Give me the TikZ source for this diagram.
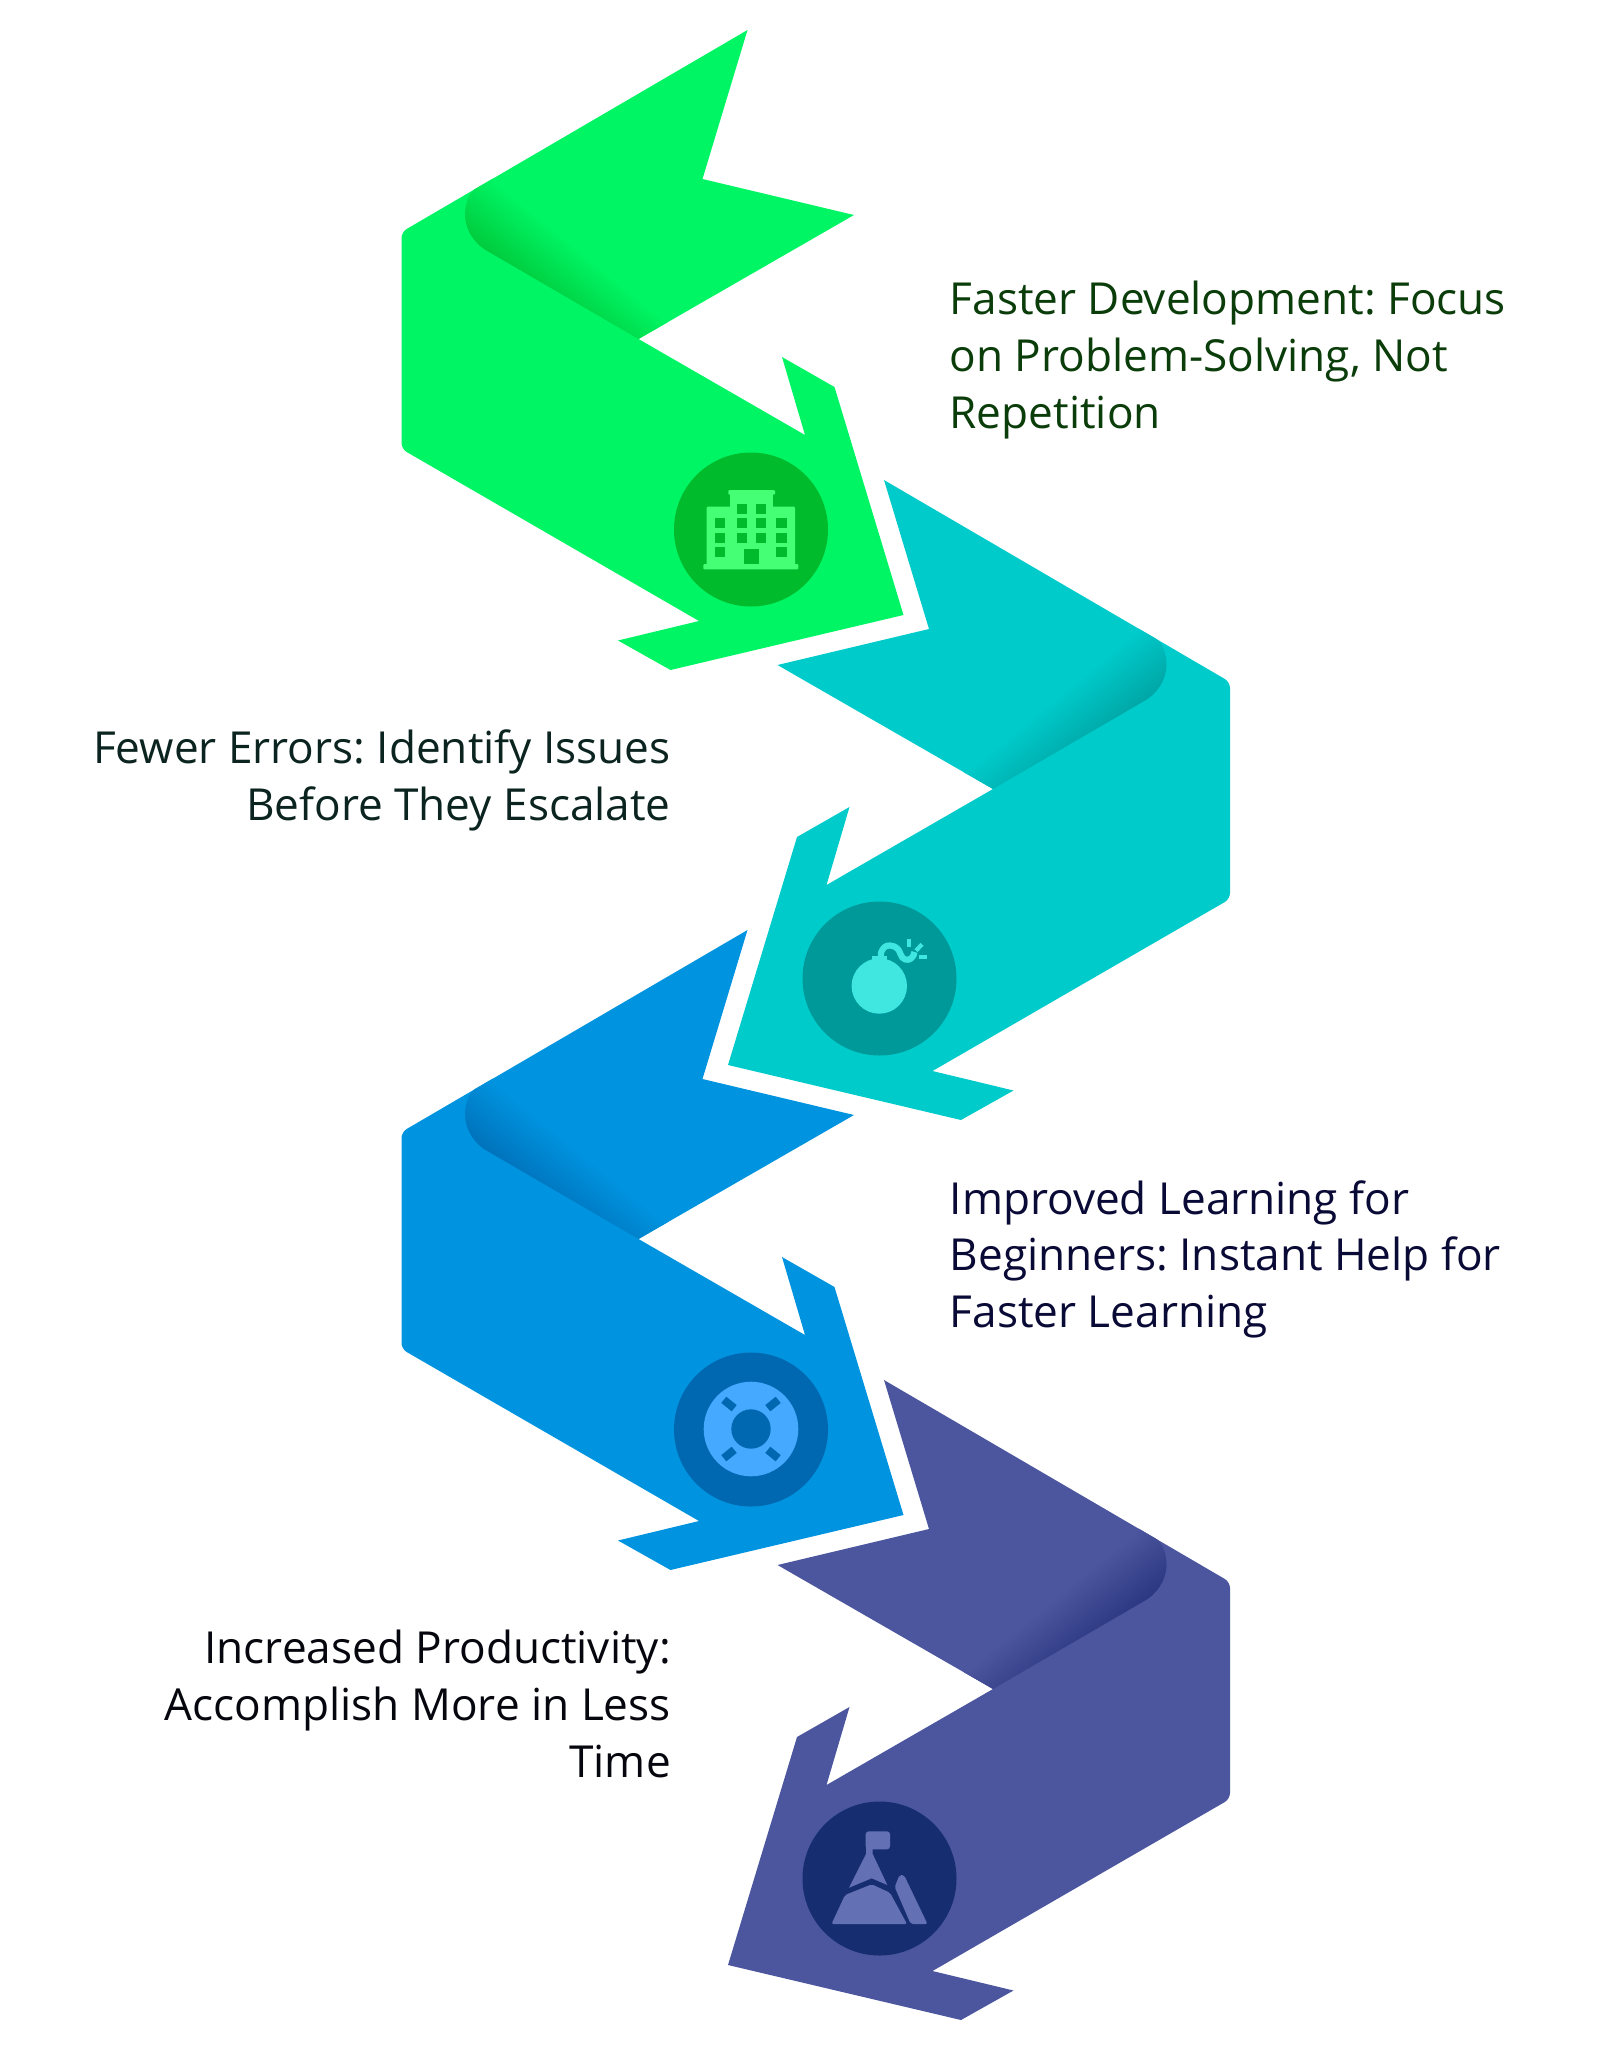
\documentclass[tikz,border=0pt]{standalone}
\usepackage{fontspec}
\setmainfont{Open Sans}
\usepackage{xcolor}
\definecolor{greenmain}{HTML}{00F564}
\definecolor{greenfold}{HTML}{00C83A}
\definecolor{greendisc}{HTML}{00BC2D}
\definecolor{greenicon}{HTML}{45FF75}
\definecolor{greentext}{HTML}{0B3D0B}
\definecolor{tealmain}{HTML}{00CBCB}
\definecolor{tealfold}{HTML}{00A3A3}
\definecolor{tealdisc}{HTML}{009999}
\definecolor{tealicon}{HTML}{40E6E0}
\definecolor{tealtext}{HTML}{0B2420}
\definecolor{bluemain}{HTML}{0094E0}
\definecolor{bluefold}{HTML}{0070B8}
\definecolor{bluedisc}{HTML}{0068B0}
\definecolor{blueicon}{HTML}{44A9FF}
\definecolor{bluetext}{HTML}{0A0A36}
\definecolor{purplemain}{HTML}{4B569E}
\definecolor{purplefold}{HTML}{2A3580}
\definecolor{purpledisc}{HTML}{162E70}
\definecolor{purpleicon}{HTML}{6470B4}
\definecolor{purpletext}{HTML}{06060E}
\newcommand{\ribbon}[3]{
\begin{scope}[transform canvas={#1}]
\fill[#2] (747.5,30) -- (702.5,179) -- (854,215) -- (638.5,339) -- (805,435) -- (782,357) -- (834.5,387) -- (903.5,615) -- (670.5,670) -- (618,640.5) -- (699,621) [rounded corners=0.6mm] -- (401.5,449) -- (401.5,232) [sharp corners] -- cycle;
\begin{scope}
\clip (475,189) .. controls (468,194) and (465,205) .. (465,215) .. controls (465,230) and (475,245) .. (489,252) -- (638.5,339) -- (854,215) -- (747.5,30) -- cycle;
\begin{scope}[transform canvas={shift={(503,187)},rotate=-39.4}]
\shade[top color=#2,bottom color=#3] (-300,0) rectangle (500,65);
\end{scope}
\end{scope}
\end{scope}
}
\begin{document}
\frenchspacing
\begin{tikzpicture}[line cap=round,line join=round,x=0.01cm,y=-0.01cm,
  steptext/.style={inner sep=0pt,font=\fontsize{12.55}{16.1}\selectfont},
  stepright/.style={steptext,anchor=base east,align=right},
  stepleft/.style={steptext,anchor=base west,align=left}]
\useasboundingbox (0,0) rectangle (1619,2048);
\ribbon{}{greenmain}{greenfold}
\ribbon{shift={(1631.5,450)},xscale=-1}{tealmain}{tealfold}
\ribbon{shift={(0,900)}}{bluemain}{bluefold}
\ribbon{shift={(1631.5,1350)},xscale=-1}{purplemain}{purplefold}
\fill[greendisc] (751,529.5) circle (77);
\fill[tealdisc] (879.5,978.5) circle (77);
\fill[bluedisc] (751,1429.5) circle (77);
\fill[purpledisc] (879.5,1878.5) circle (77);
\fill[greenicon,rounded corners=0.1mm] (728.3,490) rectangle (775,494.7);
\fill[greenicon] (730,494) rectangle (773.3,507);
\fill[greenicon,rounded corners=0.1mm] (706.7,506.7) rectangle (795,565);
\fill[greenicon,rounded corners=0.1mm] (703.3,564) rectangle (798.3,569.3);
\fill[greendisc] (737.3,504) rectangle (747.3,514);
\fill[greendisc] (755.7,504) rectangle (765.7,514);
\fill[greendisc] (715,518.3) rectangle (725.3,528.3);
\fill[greendisc] (737.3,518.3) rectangle (747.3,528.3);
\fill[greendisc] (755.7,518.3) rectangle (765.7,528.3);
\fill[greendisc] (776.3,518.3) rectangle (786.7,528.3);
\fill[greendisc] (715,532.7) rectangle (725.3,542.7);
\fill[greendisc] (737.3,532.7) rectangle (747.3,542.7);
\fill[greendisc] (755.7,532.7) rectangle (765.7,542.7);
\fill[greendisc] (776.3,532.7) rectangle (786.7,542.7);
\fill[greendisc] (715,546.7) rectangle (725.3,556.7);
\fill[greendisc] (776.3,546.7) rectangle (786.7,556.7);
\fill[greendisc] (744.3,549) rectangle (759,563.7);
\fill[tealicon] (879.3,986) circle (27.7);
\fill[tealicon] (871.7,955.5) rectangle (886.7,962);
\draw[tealicon,line width=0.62mm,line cap=butt] (880.7,956) .. controls (881,948) and (886,945) .. (890,945.5) .. controls (897,946) and (899,950) .. (900.5,954) .. controls (902,960) and (908,961) .. (911,958.5) .. controls (913,957) and (914,955) .. (914.5,952);
\draw[tealicon,line width=0.42mm,line cap=butt] (909,939.3) -- (909,947.3);
\draw[tealicon,line width=0.42mm,line cap=butt] (916,950.7) -- (922,944.3);
\draw[tealicon,line width=0.42mm,line cap=butt] (919.3,956.7) -- (926.7,956.7);
\fill[blueicon] (751,1429) circle (47.3);
\fill[bluedisc] (751,1429) circle (19.7);
\draw[bluedisc,line width=0.8mm,line cap=butt] (723.8,1399.8) -- (734.2,1408.2);
\draw[bluedisc,line width=0.8mm,line cap=butt] (778.2,1399.8) -- (767.8,1408.2);
\draw[bluedisc,line width=0.8mm,line cap=butt] (723.8,1458.2) -- (734.2,1449.8);
\draw[bluedisc,line width=0.8mm,line cap=butt] (778.2,1458.2) -- (767.8,1449.8);
\fill[purpleicon,rounded corners=0.3mm] (865.7,1831.3) rectangle (890,1849.3);
\fill[purpleicon] (866,1847) -- (872.7,1847) -- (872.7,1854) -- (887.3,1885) -- (871.7,1878.3) -- (849,1887.7) -- (866,1854) -- cycle;
\fill[purpleicon,rounded corners=0.2mm] (845,1895) -- (871.7,1884.3) -- (890,1892.7) -- (907,1924) -- (831.5,1924) -- cycle;
\fill[purpleicon,rounded corners=0.2mm] (894.7,1887) -- (899.5,1875) -- (904,1875) -- (927.5,1924) -- (910.7,1924) -- cycle;
\node[stepleft,text=greentext] (fasterdev) at (949,428) {Faster Development: Focus\\on Problem-Solving, Not\\Repetition};
\node[stepright,text=tealtext] (fewererrors) at (671.5,820.5) {Fewer Errors: Identify Issues\\Before They Escalate};
\node[stepleft,text=bluetext] (improvedlearning) at (949,1327.5) {Improved Learning for\\Beginners: Instant Help for\\Faster Learning};
\node[stepright,text=purpletext] (productivity) at (671.5,1777) {Increased Productivity:\\Accomplish More in Less\\Time};
\end{tikzpicture}
\end{document}
